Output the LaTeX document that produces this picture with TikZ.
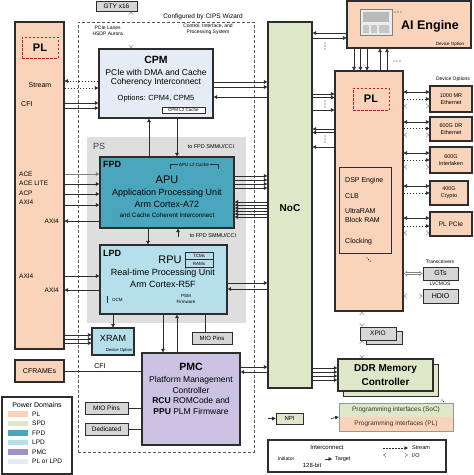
\documentclass[tikz,border=0pt]{standalone}
\usepackage{fontspec}
\setmainfont{Liberation Sans}
\usetikzlibrary{arrows.meta,fit,calc}
\definecolor{plc}{RGB}{250,212,186}
\definecolor{nocc}{RGB}{222,232,200}
\definecolor{fpdc}{RGB}{74,166,188}
\definecolor{lpdc}{RGB}{180,223,235}
\definecolor{pmcc}{RGB}{204,195,228}
\definecolor{pmcs}{RGB}{160,145,200}
\definecolor{cpmc}{RGB}{230,236,246}
\definecolor{psc}{RGB}{222,222,222}
\definecolor{grayb}{RGB}{214,214,214}
\definecolor{redd}{RGB}{205,30,30}
\definecolor{ln}{RGB}{45,45,45}
\newcommand{\mkbox}[6]{\node[fit={(#3,#4) (#5,#6)}, inner sep=0pt, #2] (#1) {};}
\tikzset{
  thickbox/.style={draw=ln, line width=1.3pt},
  midbox/.style={draw=ln, line width=1.05pt},
  thinbox/.style={draw=ln, line width=0.7pt},
  conn/.style={draw=ln, line width=0.7pt},
  arr/.style={conn, -{Triangle[length=3.5pt,width=3.6pt]}},
  barr/.style={conn, {Triangle[length=3.5pt,width=3.6pt]}-{Triangle[length=3.5pt,width=3.6pt]}},
  darr/.style={arr, dash pattern=on 1.8pt off 1.2pt},
  io/.style={draw=black!50, double=white, double distance=1.3pt, line width=0.45pt, {Implies}-{Implies}},
  lbl/.style={inner sep=0pt, align=center, font=\fontsize{#1}{#1}\selectfont},
  lbl/.default=7,
}
\begin{document}
\begin{tikzpicture}[x=1pt,y=-1pt]
\useasboundingbox (0,0) rectangle (474,475);
\fill[white] (0,0) rectangle (474,475);

% ---------- left PL ----------
\mkbox{plL}{midbox, fill=plc}{15}{22}{64}{349}
\mkbox{plLin}{draw=redd, dash pattern=on 2.5pt off 1.5pt, line width=0.9pt}{22}{37}{58}{58}
\node[lbl=11] (tplL) at (plLin) {\bfseries PL};
\node[lbl=7] (tstream) at (40,85) {Stream};
\node[lbl=7, anchor=west] (tcfiL) at (21,104) {CFI};
\node[lbl=6.5, anchor=west] (tace) at (19,174) {ACE};
\node[lbl=6.5, anchor=west] (tacel) at (19,183.5) {ACE LITE};
\node[lbl=6.5, anchor=west] (tacp) at (19,193) {ACP};
\node[lbl=6.5, anchor=west] (taxa) at (19,202) {AXI4};
\node[lbl=6.5, anchor=east] (taxb) at (59,221) {AXI4};
\node[lbl=6.5, anchor=west] (taxc) at (19,276) {AXI4};
\node[lbl=6.5, anchor=east] (taxd) at (59,290) {AXI4};

\mkbox{cframes}{midbox, fill=plc}{15}{360}{64}{382}
\node[lbl=7] (tcfr) at (cframes) {CFRAMEs};

% ---------- CIPS frame ----------
\mkbox{cips}{draw=ln!80, dash pattern=on 3pt off 2pt, line width=0.6pt}{78}{22}{254}{452}
\node[lbl=6.5, fill=white, inner sep=0.5pt] (tcfg) at (203,17) {Configured by CIPS Wizard};
\node[lbl=5] (tcis) at (208,29) {Control, Interface, and\\[1.2pt]Processing System};

% ---------- GTY ----------
\mkbox{gty}{thinbox, fill=grayb}{96}{1}{137}{11}
\node[lbl=6.5] (tgty) at (gty) {GTY x16};
\node[lbl=5, anchor=east] (tlanes) at (123,30.5) {PCIe Lanes\\[1.2pt]HSDP Aurora};

% ---------- CPM ----------
\mkbox{cpm}{thickbox, fill=cpmc}{99}{49}{213}{118}
\node[lbl=10.5] (tcpm) at (156,60) {\bfseries CPM};
\node[lbl=8.5] (tcpm1) at (156,72) {PCIe with DMA and Cache};
\node[lbl=8.5] (tcpm2) at (156,82) {Coherency Interconnect};
\node[lbl=7.5] (tcpm3) at (156,98.5) {Options: CPM4, CPM5};
\node[draw=ln, line width=0.5pt, fill=white, lbl=4.5, minimum width=43pt, minimum height=6.5pt] (cpml2) at (183.5,110) {CPM L2 Cache};

% ---------- PS ----------
\mkbox{ps}{fill=psc}{87}{137}{246}{323}
\node[lbl=9, anchor=west, text=black!75] (tps) at (93,146) {PS};
\node[lbl=5.5] (tsmmu1) at (211,147) {to FPD SMMU/CCI};

% ---------- FPD ----------
\mkbox{fpd}{thickbox, fill=fpdc}{100}{157}{234}{228}
\node[lbl=9, anchor=west] (tfpd) at (103,164) {\bfseries FPD};
\draw[ln, line width=0.5pt] (170,168.5) -- (170,164) -- (218,164) -- (218,168.5);
\node[lbl=4.5, fill=fpdc, inner sep=0.8pt] (tapul2) at (194,164.5) {APU L2 Cache};
\node[lbl=11] (tapu) at (167,180) {APU};
\node[lbl=9] (tapu1) at (167,193) {Application Processing Unit};
\node[lbl=9] (tapu2) at (167,204) {Arm Cortex-A72};
\node[lbl=6.3] (tapu3) at (167,215) {and Cache Coherent Interconnect};
\node[lbl=5.5] (tsmmu2) at (213,236) {to FPD SMMU/CCI};

% ---------- LPD ----------
\mkbox{lpd}{thickbox, fill=lpdc}{100}{245}{227}{314}
\node[lbl=9, anchor=west] (tlpd) at (103,253) {\bfseries LPD};
\node[lbl=11] (trpu) at (170,260) {RPU};
\mkbox{tcm}{draw=ln, line width=0.5pt}{185}{252}{213}{267}
\draw[ln, line width=0.4pt] (tcm.west |- 0,259.5) -- (tcm.east |- 0,259.5);
\node[lbl=4.5] (ttcm) at (199,256) {TCMs};
\node[lbl=4.5] (tram) at (199,263.5) {RAMs};
\node[lbl=9] (trpu1) at (163,273) {Real-time Processing Unit};
\node[lbl=9] (trpu2) at (163,284) {Arm Cortex-R5F};
\draw[ln, line width=0.7pt] (107,296) -- (107,303);
\node[lbl=4.5, anchor=west] (tocm) at (112,299.5) {OCM};
\node[lbl=4.5] (tpsm) at (186,298.5) {PSM\\[1.5pt]Firmware};

% ---------- XRAM, MIO, PMC ----------
\mkbox{xram}{midbox, fill=lpdc}{92}{328}{134}{355}
\node[lbl=9] (txram) at (113,338) {XRAM};
\node[lbl=4.2] (txdev) at (119,350) {Device Option};
\mkbox{mior}{thinbox, fill=grayb}{192}{332}{232}{344}
\node[lbl=6] (tmior) at (mior) {MIO Pins};
\mkbox{pmc}{thickbox, fill=pmcc}{142}{353}{240}{445}
\node[lbl=10.5] (tpmc) at (191,367) {\bfseries PMC};
\node[lbl=8.5] (tpmc1) at (191,380) {Platform Management};
\node[lbl=8.5] (tpmc2) at (191,390) {Controller};
\node[lbl=8.5] (tpmc3) at (191,400) {\textbf{RCU} ROMCode and};
\node[lbl=8.5] (tpmc4) at (191,411) {\textbf{PPU} PLM Firmware};
\node[lbl=7] (tcfi) at (100,366) {CFI};
\mkbox{miol}{thinbox, fill=grayb}{85}{402}{128}{414}
\node[lbl=6.5] (tmiol) at (miol) {MIO Pins};
\mkbox{ded}{thinbox, fill=grayb}{85}{423}{128}{435}
\node[lbl=6.5] (tded) at (ded) {Dedicated};

% ---------- Power domains legend ----------
\mkbox{pdleg}{midbox, fill=white}{2}{397}{72}{474}
\node[lbl=7] (tpd) at (37,405) {Power Domains};
\foreach \c/\t/\y [count=\i] in {plc/PL/414, nocc/SPD/423.5, fpdc/FPD/433, lpdc/LPD/442.5, pmcs/PMC/452, cpmc/PL or LPD/461.5}{
  \fill[\c] (8,\y-2.8) rectangle (28,\y+2.8);
  \node[lbl=6.5, anchor=west] (tpd\i) at (32,\y) {\t};
}

% ---------- NoC ----------
\mkbox{noc}{thickbox, fill=nocc}{268}{22}{312}{388}
\node[lbl=10] (tnoc) at (290,208) {\bfseries NoC};

% ---------- AI Engine ----------
\mkbox{aie}{midbox, fill=plc}{347}{1}{471}{48}
\draw[gray, line width=0.6pt, fill=gray!15] (360,9) rectangle (392,35);
\fill[gray!55] (363,12) rectangle (389,22);
\fill[gray!45] (363,25) rectangle (369,33) (371,25) rectangle (377,33) (379,25) rectangle (389,33);
\foreach \x in {395,398,401} \fill[ln] (\x,12) circle (0.6);
\node[lbl=12.5] (taie) at (430,26) {\bfseries AI Engine};
\node[lbl=4.5] (taied) at (450,44) {Device Option};

% ---------- right PL ----------
\mkbox{plR}{midbox, fill=plc}{335}{71}{403}{311}
\mkbox{plRin}{draw=redd, dash pattern=on 2.5pt off 1.5pt, line width=0.9pt}{353}{88}{389}{110}
\node[lbl=11] (tplR) at (plRin) {\bfseries PL};
\mkbox{plist}{thinbox}{339}{167}{391}{253}
\node[lbl=7, anchor=west] (tdsp) at (345,181) {DSP Engine};
\node[lbl=7, anchor=west] (tclb) at (345,196) {CLB};
\node[lbl=7, anchor=west] (turam) at (345,211) {UltraRAM};
\node[lbl=7, anchor=west] (tbram) at (345,220) {Block RAM};
\node[lbl=7, anchor=west] (tclk) at (345,242) {Clocking};
\foreach \d in {0,1.6,3.2} \fill[ln] (367+\d,258+\d) circle (0.55);

\node[lbl=5] (tdevo) at (453,79) {Device Options};
\mkbox{eth1}{midbox, fill=plc}{430}{86}{472}{112}
\node[lbl=5.5] (teth1) at (eth1) {1000 MR\\[1.3pt]Ethernet};
\mkbox{eth2}{midbox, fill=plc}{430}{117}{472}{141}
\node[lbl=5.5] (teth2) at (eth2) {600G DR\\[1.3pt]Ethernet};
\mkbox{ilk}{midbox, fill=plc}{430}{147}{472}{173}
\node[lbl=5.5] (tilk) at (ilk) {600G\\[1.3pt]Interlaken};
\mkbox{cry}{midbox, fill=plc}{430}{181}{468}{205}
\node[lbl=5.5] (tcry) at (cry) {400G\\[1.3pt]Crypto};
\mkbox{plpcie}{midbox, fill=plc}{430}{212}{472}{236}
\node[lbl=6.5] (tplpcie) at (plpcie) {PL PCIe};
\node[lbl=5] (ttrx) at (440,262) {Transceivers};
\mkbox{gts}{thinbox, fill=grayb}{423}{267}{458}{280}
\node[lbl=7] (tgts) at (gts) {GTs};
\node[lbl=5] (tlvc) at (440,283.5) {LVCMOS};
\mkbox{hdio}{thinbox, fill=grayb}{423}{289}{458}{303}
\node[lbl=7] (thdio) at (hdio) {HDIO};

% ---------- XPIO, DDR ----------
\mkbox{xpiob}{thinbox, fill=grayb}{366}{331}{402}{344}
\mkbox{xpio}{thinbox, fill=grayb}{360}{327}{396}{340}
\node[lbl=6.5] (txpio) at (xpio) {XPIO};
\mkbox{ddrb}{thinbox, fill=nocc}{343}{364}{438}{396}
\mkbox{ddr}{thickbox, fill=nocc}{338}{359}{433}{391}
\node[lbl=10] (tddr1) at (385.5,369) {\bfseries DDR Memory};
\node[lbl=10] (tddr2) at (385.5,382) {\bfseries Controller};
\foreach \d in {0,1.6,3.2} \fill[ln] (442+\d,400+\d) circle (0.55);

\mkbox{npi}{thinbox, fill=nocc}{276}{413}{303}{424}
\node[lbl=6] (tnpi) at (npi) {NPI};
\coordinate (npiin) at (268,418.5);
\mkbox{progs}{draw=none, fill=nocc}{339}{403}{453}{417}
\mkbox{progp}{draw=none, fill=plc}{339}{417}{453}{431}
\mkbox{prog}{draw=grayb!70!black, line width=0.6pt}{339}{403}{453}{431}
\node[lbl=6.5, text=black!80] (tprogs) at (396,410) {Programming interfaces (SoC)};
\node[lbl=6.5, text=black!80] (tprogp) at (396,424) {Programming interfaces (PL)};
\coordinate (progin) at (331,418.5);

% ---------- Interconnect legend ----------
\mkbox{icleg}{midbox, fill=white}{268}{440}{446}{472}
\node[lbl=6] (tic) at (327,447) {Interconnect};
\node[lbl=5] (tinit) at (286,458.5) {Initiator};
\coordinate (icA) at (325,459);
\coordinate (icB) at (332,459);
\node[lbl=5.5, anchor=west] (ttgt) at (335,459) {Target};
\node[lbl=6] (t128) at (312,465) {128-bit};
\coordinate (stA) at (383,448);
\coordinate (stB) at (408,448);
\node[lbl=5.5, anchor=west] (tstr) at (412,448) {Stream};
\coordinate (ioA) at (383,455);
\coordinate (ioB) at (408,455);
\node[lbl=5.5, anchor=west] (tio) at (412,455.5) {I/O};

% =========== connectors ===========
\draw[io] (gty.south -| 131,0) -- (cpm.north -| 131,0);
% CPM - PL
\draw[darr] (cpm.west |- 0,81) -- (plL.east |- 0,81);
\draw[darr] (plL.east |- 0,88) -- (cpm.west |- 0,88);
\draw[arr] (plL.east |- 0,103) -- (cpm.west |- 0,103);
\draw[arr] (plL.east |- 0,108) -- (cpm.west |- 0,108);
% CPM - NoC
\draw[arr] (cpm.east |- 0,82) -- (noc.west |- 0,82);
\draw[arr] (cpm.east |- 0,87) -- (noc.west |- 0,87);
\draw[arr] (noc.west |- 0,97) -- (cpm.east |- 0,97);
% CPM - FPD
\draw[arr] (fpd.north -| 149,0) -- (cpm.south -| 149,0);
\draw[arr] (cpm.south -| 177,0) -- (fpd.north -| 177,0);
\coordinate (smmu2) at (178,237);
\draw[arr] (smmu2) -- (fpd.south -| 178,0);
% FPD - LPD
\draw[arr] (fpd.south -| 148,0) -- (lpd.north -| 148,0);
% FPD - NoC
\foreach \y in {176,180,184,188} \draw[arr] (fpd.east |- 0,\y) -- (noc.west |- 0,\y);
\foreach \y in {202,205,208,211,214,217} \draw[arr] (noc.west |- 0,\y) -- (fpd.east |- 0,\y);
% LPD - NoC
\draw[arr] (lpd.east |- 0,283) -- (noc.west |- 0,283);
\draw[arr] (noc.west |- 0,289) -- (lpd.east |- 0,289);
% PL - FPD / LPD
\draw[arr, draw=ln!60] (plL.east |- 0,174) -- (fpd.west |- 0,174);
\foreach \y in {184,194,205} \draw[arr] (plL.east |- 0,\y) -- (fpd.west |- 0,\y);
\draw[arr] (fpd.west |- 0,221) -- (plL.east |- 0,221);
\draw[arr] (plL.east |- 0,276) -- (lpd.west |- 0,276);
\draw[arr] (lpd.west |- 0,290) -- (plL.east |- 0,290);
% PL - XRAM
\foreach \y in {335,339,343} \draw[arr] (plL.east |- 0,\y) -- (xram.west |- 0,\y);
% LPD - XRAM, MIO, PMC
\draw[arr] (lpd.south -| 113,0) -- (xram.north -| 113,0);
\draw[conn] (lpd.south -| 205,0) -- (mior.north -| 205,0);
\draw[arr] (lpd.south -| 163,0) -- (pmc.north -| 163,0);
\draw[arr] (pmc.north -| 177,0) -- (lpd.south -| 177,0);
% PMC - NoC
\draw[arr] (pmc.east |- 0,367) -- (noc.west |- 0,367);
\draw[arr] (noc.west |- 0,372) -- (pmc.east |- 0,372);
% PMC left side
\draw[conn, line width=1pt] (cframes.east |- 0,371) -- (pmc.west |- 0,371);
\draw[conn] (miol.east) -- (pmc.west |- miol.east);
\draw[conn] (ded.east) -- (pmc.west |- ded.east);
% NoC - AI Engine
\draw[arr] (aie.west |- 0,33) -- (noc.east |- 0,33);
\draw[arr] (noc.east |- 0,38) -- (aie.west |- 0,38);
\foreach \y in {43,46,49} \fill[ln] (325,\y) circle (0.6);
% AI Engine - PL
\foreach \x in {354,360.5,367} \draw[arr] (aie.south -| \x,0) -- (plR.north -| \x,0);
\foreach \x in {380,387} \draw[arr] (plR.north -| \x,0) -- (aie.south -| \x,0);
\foreach \x in {394,397,400} \fill[ln] (\x,61) circle (0.6);
% NoC - PL
\foreach \y in {94,97.5,110} \draw[arr] (noc.east |- 0,\y) -- (plR.west |- 0,\y);
\foreach \y in {129,132.5,147} \draw[arr] (plR.west |- 0,\y) -- (noc.east |- 0,\y);
\foreach \y in {101,104,107,136,139,142} \fill[ln] (325,\y) circle (0.6);
% PL - device options
\foreach \b/\ya/\yb/\yc in {eth1/92/99/106, eth2/122/128.5/135, ilk/153/160/167, plpcie/218/226/233}{
  \draw[barr] (plR.east |- 0,\ya) -- (\b.west |- 0,\ya);
  \draw[darr] (plR.east |- 0,\yb) -- (\b.west |- 0,\yb);
  \draw[io] (plR.east |- 0,\yc) -- (\b.west |- 0,\yc);
}
\draw[barr] (plR.east |- 0,186) -- (cry.west |- 0,186);
\draw[darr] (plR.east |- 0,193) -- (cry.west |- 0,193);
\draw[io] (plR.east |- gts.west) -- (gts.west);
\draw[io] (plR.east |- hdio.west) -- (hdio.west);
% PL - XPIO - DDR
\draw[io] (plR.south -| 362,0) -- (xpio.north -| 362,0);
\draw[io] (xpio.south -| 362,0) -- (ddr.north -| 362,0);
% NoC - DDR
\foreach \y in {368,372,376,380} \draw[arr] (noc.east |- 0,\y) -- (ddr.west |- 0,\y);
% NPI, prog
\draw[arr] (npiin) -- (npi.west);
\draw[arr] (progin) -- (prog.west);
% legend
\draw[arr] (icA) -- (icB);
\draw[darr] (stA) -- (stB);
\draw[io] (ioA) -- (ioB);
\end{tikzpicture}
\end{document}
